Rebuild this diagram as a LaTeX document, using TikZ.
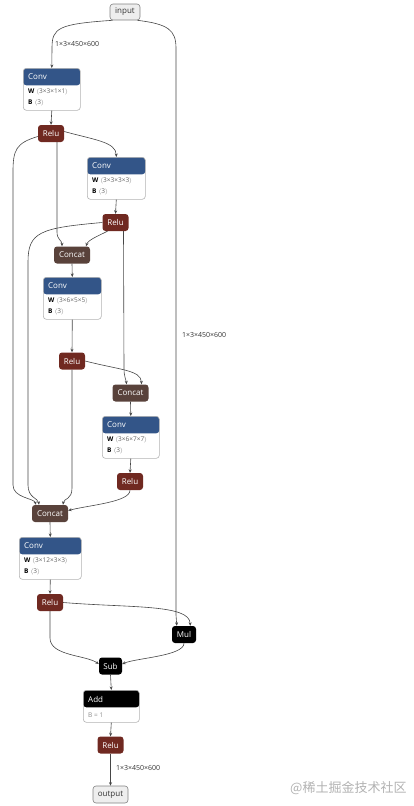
\documentclass[tikz,border=0pt]{standalone}
\usepackage{fontspec}
\setmainfont{Open Sans}
\newfontfamily\cjk{Noto Sans CJK SC}
\usetikzlibrary{arrows.meta}

\definecolor{layerc}{RGB}{51,85,136}
\definecolor{actc}{RGB}{112,41,33}
\definecolor{tensorc}{RGB}{89,66,59}
\definecolor{iofill}{RGB}{238,238,238}
\definecolor{iodraw}{RGB}{130,130,130}
\definecolor{edgec}{RGB}{70,70,70}

\tikzset{
	op/.style={rounded corners=3pt,minimum height=17pt,inner sep=0pt,text=white,
		font=\fontsize{8}{9}\selectfont},
	relu/.style={op,fill=actc,minimum width=26pt},
	concat/.style={op,fill=tensorc,minimum width=36pt},
	blackop/.style={op,fill=black,minimum width=24pt},
	io/.style={op,fill=iofill,draw=iodraw,line width=0.6pt,text=black!80},
	headbox/.style={draw=gray!60,line width=0.6pt,fill=white,rounded corners=3pt,
		inner sep=0pt,anchor=north west,
		path picture={\fill[#1] (path picture bounding box.north west) rectangle
			([yshift=-17pt]path picture bounding box.north east);}},
	headtext/.style={anchor=west,inner sep=0pt,text=white,font=\fontsize{8}{9}\selectfont},
	attrtext/.style={anchor=west,inner sep=0pt,text=black!60,font=\fontsize{6.5}{7}\selectfont},
	shapetext/.style={anchor=west,inner sep=0pt,text=black!80,font=\fontsize{7}{8}\selectfont},
	edge/.style={draw=edgec,line width=0.6pt,-{Stealth[length=3.5pt,width=3pt]}}
}

\begin{document}
\begin{tikzpicture}[x=1pt,y=-1pt]

\useasboundingbox (0,0) rectangle (413,806);

% plain operators
\node[io,minimum width=30pt,minimum height=16pt] (input) at (125,12) {input};
\node[relu] (relu1) at (51,133.5) {Relu};
\node[relu] (relu2) at (115.5,222.5) {Relu};
\node[concat] (concat1) at (72,255) {Concat};
\node[relu] (relu3) at (72,361) {Relu};
\node[concat] (concat2) at (130.5,393) {Concat};
\node[relu] (relu4) at (130,481.5) {Relu};
\node[concat] (concat3) at (50,513.5) {Concat};
\node[relu] (relu5) at (50,602.5) {Relu};
\node[blackop] (mul) at (184,634.5) {Mul};
\node[blackop,minimum width=23pt] (sub) at (110.5,666) {Sub};
\node[relu] (relu6) at (110.5,745) {Relu};
\node[io,minimum width=35pt] (output) at (110.5,794.5) {output};

% conv blocks
\foreach \nm/\x/\y/\w/\ws in {conv1/23/68/57/{3×3×1×1},conv2/87/157/58/{3×3×3×3},
		conv3/43/277/58/{3×6×5×5},conv4/102/416/57/{3×6×7×7},conv5/19/537/62/{3×12×3×3}}{
	\node[headbox=layerc,minimum width=\w pt,minimum height=42pt] (\nm) at (\x,\y) {};
	\node[headtext] at ([xshift=5pt,yshift=-9pt]\nm.north west) {Conv};
	\node[attrtext] at ([xshift=5pt,yshift=-24pt]\nm.north west)
		{\textcolor{black}{\textbf{W}}\ $\langle$\ws$\rangle$};
	\node[attrtext] at ([xshift=5pt,yshift=-35pt]\nm.north west)
		{\textcolor{black}{\textbf{B}}\ $\langle$3$\rangle$};
}

\node[headbox=black,minimum width=56pt,minimum height=32pt] (add) at (83,690) {};
\node[headtext] at ([xshift=5pt,yshift=-9pt]add.north west) {Add};
\node[attrtext,text=black!45] at ([xshift=5pt,yshift=-25pt]add.north west) {B = 1};

% straight links
\draw[edge] (conv1.south) -- (relu1.north);
\draw[edge] (conv2.south) -- (relu2.north);
\draw[edge] (concat1.south) -- (conv3.north);
\draw[edge] (conv3.south) -- (relu3.north);
\draw[edge] (concat2.south) -- (conv4.north);
\draw[edge] (conv4.south) -- (relu4.north);
\draw[edge] (concat3.south) -- (conv5.north);
\draw[edge] (conv5.south) -- (relu5.north);
\draw[edge] (sub.south) -- (add.north);
\draw[edge] (add.south) -- (relu6.north);
\draw[edge] (relu6.south) -- (output.north);

% curved links
\draw[edge] ([xshift=3pt]input.south west) .. controls (58,24) and (52,28) .. (52,48) -- (conv1.north);
\draw[edge] ([xshift=-3pt]input.south east) .. controls (168,24) and (176,30) .. (176,48)
	-- (176,615) -- ([xshift=5pt]mul.north west);
\draw[edge] ([yshift=2pt]relu1.east) .. controls (95,140) and (116,142) .. (conv2.north);
\draw[edge] ([xshift=6pt]relu1.south) -- (57,232) .. controls (57,240) and (62,240) .. ([xshift=-10pt]concat1.north);
\draw[edge] ([yshift=-3pt]relu1.west) .. controls (16,143) and (13,150) .. (13,172)
	-- (13,485) .. controls (13,498) and (34,498) .. ([xshift=-14pt]concat3.north);
\draw[edge] ([xshift=-8pt]relu2.south) .. controls (98,236) and (88,240) .. ([xshift=14pt]concat1.north);
\draw[edge] (relu2.west) .. controls (40,228) and (28,232) .. (28,262)
	-- (28,485) .. controls (28,498) and (38,498) .. ([xshift=-11pt]concat3.north);
\draw[edge] ([xshift=8pt]relu2.south) -- (124,368) .. controls (124,378) and (126,378) .. ([xshift=-4pt]concat2.north);
\draw[edge] (relu3.east) .. controls (120,370) and (141,370) .. ([xshift=11pt]concat2.north);
\draw[edge] (relu3.south) -- (72,488) .. controls (72,500) and (64,498) .. ([xshift=13pt]concat3.north);
\draw[edge] (relu4.south) .. controls (130,502) and (90,505) .. ([yshift=3pt]concat3.east);
\draw[edge] (relu5.east) .. controls (130,608) and (190,604) .. ([xshift=-6pt]mul.north east);
\draw[edge] (relu5.south) -- (50,638) .. controls (50,656) and (86,655) .. ([yshift=2pt]sub.west);
\draw[edge] (mul.south) .. controls (184,656) and (136,658) .. ([yshift=2pt]sub.east);

% tensor shapes
\node[shapetext] (shapein) at (55,44) {1×3×450×600};
\node[shapetext] (shapemul) at (182,335) {1×3×450×600};
\node[shapetext] (shapeout) at (116,768) {1×3×450×600};

\node[anchor=west,inner sep=0pt,text=black!30,font=\cjk\fontsize{13}{14}\selectfont] (mark) at (290,788) {@稀土掘金技术社区};

\end{tikzpicture}
\end{document}
